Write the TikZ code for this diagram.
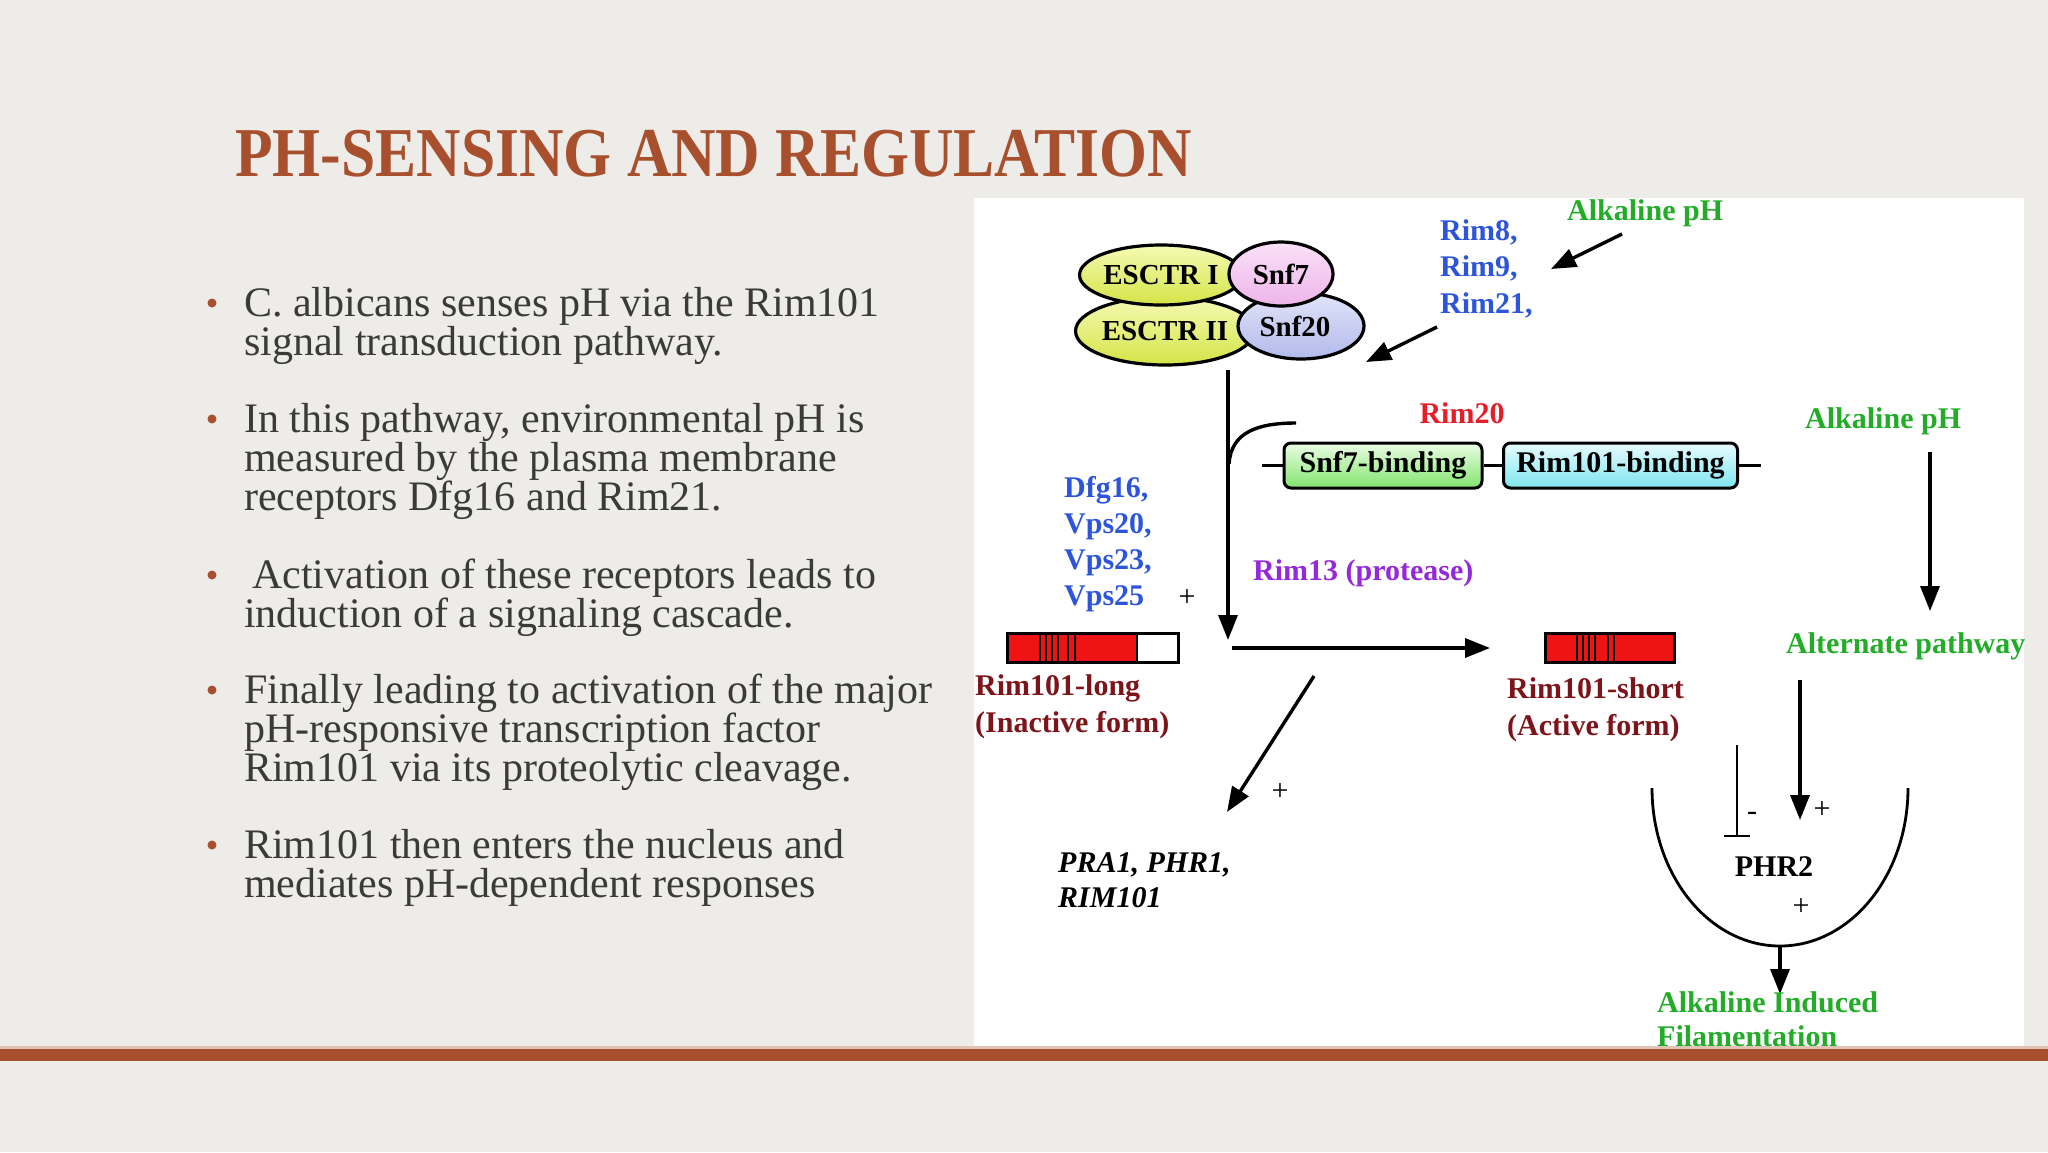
\documentclass[tikz,border=0pt]{standalone}
\usepackage{fontspec}
\setmainfont{Liberation Serif}
\newfontfamily\titlefont[FakeStretch=0.88]{Liberation Serif}
\usetikzlibrary{arrows.meta,shapes.geometric}
\definecolor{bg}{RGB}{237,236,232}
\definecolor{rust}{RGB}{168,80,45}
\definecolor{bodygray}{RGB}{58,58,58}
\definecolor{dgreen}{RGB}{34,172,40}
\definecolor{dblue}{RGB}{45,85,220}
\definecolor{dred}{RGB}{230,30,40}
\definecolor{dpurple}{RGB}{150,40,220}
\definecolor{maroon}{RGB}{125,20,25}
\definecolor{barred}{RGB}{238,20,20}
\definecolor{escL}{RGB}{246,250,180}
\definecolor{escD}{RGB}{212,228,70}
\definecolor{snfsevL}{RGB}{250,225,248}
\definecolor{snfsevD}{RGB}{238,180,234}
\definecolor{snftwL}{RGB}{225,228,248}
\definecolor{snftwD}{RGB}{178,186,235}
\definecolor{grnL}{RGB}{235,253,228}
\definecolor{grnD}{RGB}{130,228,110}
\definecolor{cyaL}{RGB}{232,252,255}
\definecolor{cyaD}{RGB}{125,228,238}
\begin{document}
\begin{tikzpicture}[x=1pt,y=-1pt,
  body/.style={anchor=base west,inner sep=0pt,text=bodygray,font=\fontsize{42}{42}\selectfont},
  dlab/.style={anchor=base west,inner sep=0pt,font=\fontsize{30}{30}\selectfont\bfseries},
  dlabc/.style={anchor=base,inner sep=0pt,font=\fontsize{30}{30}\selectfont\bfseries},
  bdot/.style={circle,fill=rust,inner sep=0pt,minimum size=9pt},
  ell/.style={ellipse,draw=black,line width=3.2pt,inner sep=0pt,font=\fontsize{29}{29}\selectfont\bfseries},
  bindbox/.style={rectangle,rounded corners=7pt,draw=black,line width=3pt,inner sep=0pt,minimum height=45pt,font=\fontsize{30}{30}\selectfont\bfseries},
  conn/.style={line width=3.4pt},
  arr/.style={conn,-{Triangle[length=25pt,width=19pt]}},
  sign/.style={inner sep=0pt,font=\fontsize{30}{30}\selectfont},
  stripe/.style={line width=2pt,black},
]
\fill[bg] (0,0) rectangle (2048,1152);
\useasboundingbox (0,0) rectangle (2048,1152);

% title
\node[anchor=base west,inner sep=0pt,text=rust,font=\titlefont\bfseries\fontsize{70}{70}\selectfont] (title) at (235,176) {PH-SENSING AND REGULATION};

% bullets
\node[bdot] (d1) at (212,303) {};
\node[body] (b1a) at (244,316) {C. albicans senses pH via the Rim101};
\node[body] (b1b) at (244,355) {signal transduction pathway.};
\node[bdot] (d2) at (212,419) {};
\node[body] (b2a) at (244,432) {In this pathway, environmental pH is};
\node[body] (b2b) at (244,471) {measured by the plasma membrane};
\node[body] (b2c) at (244,510) {receptors Dfg16 and Rim21.};
\node[bdot] (d3) at (212,575) {};
\node[body] (b3a) at (252,588) {Activation of these receptors leads to};
\node[body] (b3b) at (244,627) {induction of a signaling cascade.};
\node[bdot] (d4) at (212,690) {};
\node[body] (b4a) at (244,703) {Finally leading to activation of the major};
\node[body] (b4b) at (244,742) {pH-responsive transcription factor};
\node[body] (b4c) at (244,781) {Rim101 via its proteolytic cleavage.};
\node[bdot] (d5) at (212,845) {};
\node[body] (b5a) at (244,858) {Rim101 then enters the nucleus and};
\node[body] (b5b) at (244,897) {mediates pH-dependent responses};

% figure panel
\fill[white] (974,198) rectangle (2024,1049);

% complex
\node[ell,minimum width=146pt,minimum height=68pt,top color=escL,bottom color=escD] (esc2) at (1165,331) {ESCTR II};
\node[ell,minimum width=126pt,minimum height=66pt,top color=snftwL,bottom color=snftwD] (snf20) at (1301,326) {\hspace*{-12pt}Snf20};
\node[ell,minimum width=148pt,minimum height=60pt,top color=escL,bottom color=escD] (esc1) at (1161,275) {ESCTR I};
\node[ell,minimum width=104pt,minimum height=64pt,top color=snfsevL,bottom color=snfsevD] (snf7) at (1281,274) {Snf7};

% Rim8 group
\node[dlab,text=dgreen] (alk1) at (1567,220) {Alkaline pH};
\node[dlab,text=dblue] (rim8) at (1440,240) {Rim8,};
\node[dlab,text=dblue] (rim9) at (1440,276) {Rim9,};
\node[dlab,text=dblue] (rim21) at (1440,313) {Rim21,};
\coordinate (alkT) at (1622,234);
\coordinate (rimH) at (1551,269);
\draw[arr] (alkT) -- (rimH);
\coordinate (rimT) at (1437,327);
\coordinate (cplxH) at (1366,362);
\draw[arr] (rimT) -- (cplxH);

% main vertical
\coordinate (vtop) at (1228,370);
\coordinate (vbot) at (1228,640);
\draw[arr] (vtop) -- (vbot);
\coordinate (arcS) at (1229,464);
\coordinate (arcE) at (1296,423);
\draw[conn] (arcS) .. controls (1231,432) and (1258,423) .. (arcE);

% Rim20 boxes
\node[dlabc,text=dred] (rim20) at (1462,423) {Rim20};
\node[bindbox,minimum width=198pt,top color=grnL,bottom color=grnD] (snf7b) at (1383,465.5) {Snf7-binding};
\node[bindbox,minimum width=234pt,top color=cyaL,bottom color=cyaD] (rimb) at (1620.5,465.5) {Rim101-binding};
\coordinate (stubL) at (1262,465.5);
\coordinate (stubR) at (1761,465.5);
\draw[conn] (stubL) -- (snf7b.west);
\draw[conn] (snf7b.east) -- (rimb.west);
\draw[conn] (rimb.east) -- (stubR);

% right alkaline
\node[dlab,text=dgreen] (alk2) at (1805,428) {Alkaline pH};
\coordinate (altT) at (1930,452);
\coordinate (altH) at (1930,611);
\draw[arr] (altT) -- (altH);
\node[dlab,text=dgreen] (altp) at (1786,653) {Alternate pathway};

% Dfg16 group
\node[dlab,text=dblue] (dfg) at (1064,497) {Dfg16,};
\node[dlab,text=dblue] (vps20) at (1064,533) {Vps20,};
\node[dlab,text=dblue] (vps23) at (1064,569) {Vps23,};
\node[dlab,text=dblue] (vps25) at (1064,605) {Vps25};
\node[sign] (plus1) at (1187,598) {+};
\node[dlab,text=dpurple] (rim13) at (1253,580) {Rim13 (protease)};

% Rim101-long bar
\node[draw=black,line width=2.5pt,fill=white,minimum width=171pt,minimum height=29pt,inner sep=0pt] (longbar) at (1092.5,647.5) {};
\fill[barred] (1008,634) rectangle (1137,661);
\draw[line width=2.5pt] (1137,633) -- (1137,662);
\foreach \xx in {1040,1046,1052,1058,1068,1075} \draw[stripe] (\xx,634) -- (\xx,661);
\draw[line width=3pt] (1007,633) rectangle (1178,662);
\node[dlab,text=maroon] (longa) at (975,695) {Rim101-long};
\node[dlab,text=maroon] (longb) at (975,732) {(Inactive form)};

% horizontal arrow
\coordinate (hT) at (1232,648);
\coordinate (hH) at (1490,648);
\draw[arr] (hT) -- (hH);

% Rim101-short bar
\node[draw=black,line width=3pt,fill=barred,minimum width=129pt,minimum height=29pt,inner sep=0pt] (shortbar) at (1609.5,647.5) {};
\foreach \xx in {1577,1583,1589,1595,1608,1614} \draw[stripe] (\xx,634) -- (\xx,661);
\draw[line width=3pt] (1545,633) rectangle (1674,662);
\node[dlab,text=maroon] (shorta) at (1507,698) {Rim101-short};
\node[dlab,text=maroon] (shortb) at (1507,735) {(Active form)};

% diagonal arrow
\coordinate (dT) at (1314,676);
\coordinate (dH) at (1227,812);
\draw[arr] (dT) -- (dH);
\node[sign] (plus2) at (1280,792) {+};
\node[dlab,font=\fontsize{30}{30}\selectfont\bfseries\itshape] (pra) at (1058,872) {PRA1, PHR1,};
\node[dlab,font=\fontsize{30}{30}\selectfont\bfseries\itshape] (rimg) at (1058,907) {RIM101};

% PHR2 region
\coordinate (inhT) at (1737,745);
\coordinate (inhB) at (1737,836);
\draw[line width=2.6pt] (inhT) -- (inhB);
\draw[line width=2.6pt] (1724,836) -- (1750,836);
\node[sign] (minus) at (1752,816) {-};
\coordinate (pT) at (1800,680);
\coordinate (pH) at (1800,820);
\draw[arr] (pT) -- (pH);
\node[sign] (plus3) at (1822,810) {+};
\coordinate (uL) at (1652,788);
\draw[line width=2.8pt] (uL) arc[start angle=180,end angle=0,x radius=128,y radius=158];
\node[dlabc] (phr2) at (1774,876) {PHR2};
\node[sign] (plus4) at (1801,907) {+};
\coordinate (uB) at (1780,946);
\coordinate (fH) at (1780,994);
\draw[arr] (uB) -- (fH);
\node[dlab,text=dgreen] (aif1) at (1657,1012) {Alkaline Induced};
\node[dlab,text=dgreen] (aif2) at (1657,1046) {Filamentation};

% bottom band
\fill[rust!35!white] (0,1046) rectangle (2048,1049);
\fill[rust] (0,1049) rectangle (2048,1061);
\end{tikzpicture}
\end{document}
